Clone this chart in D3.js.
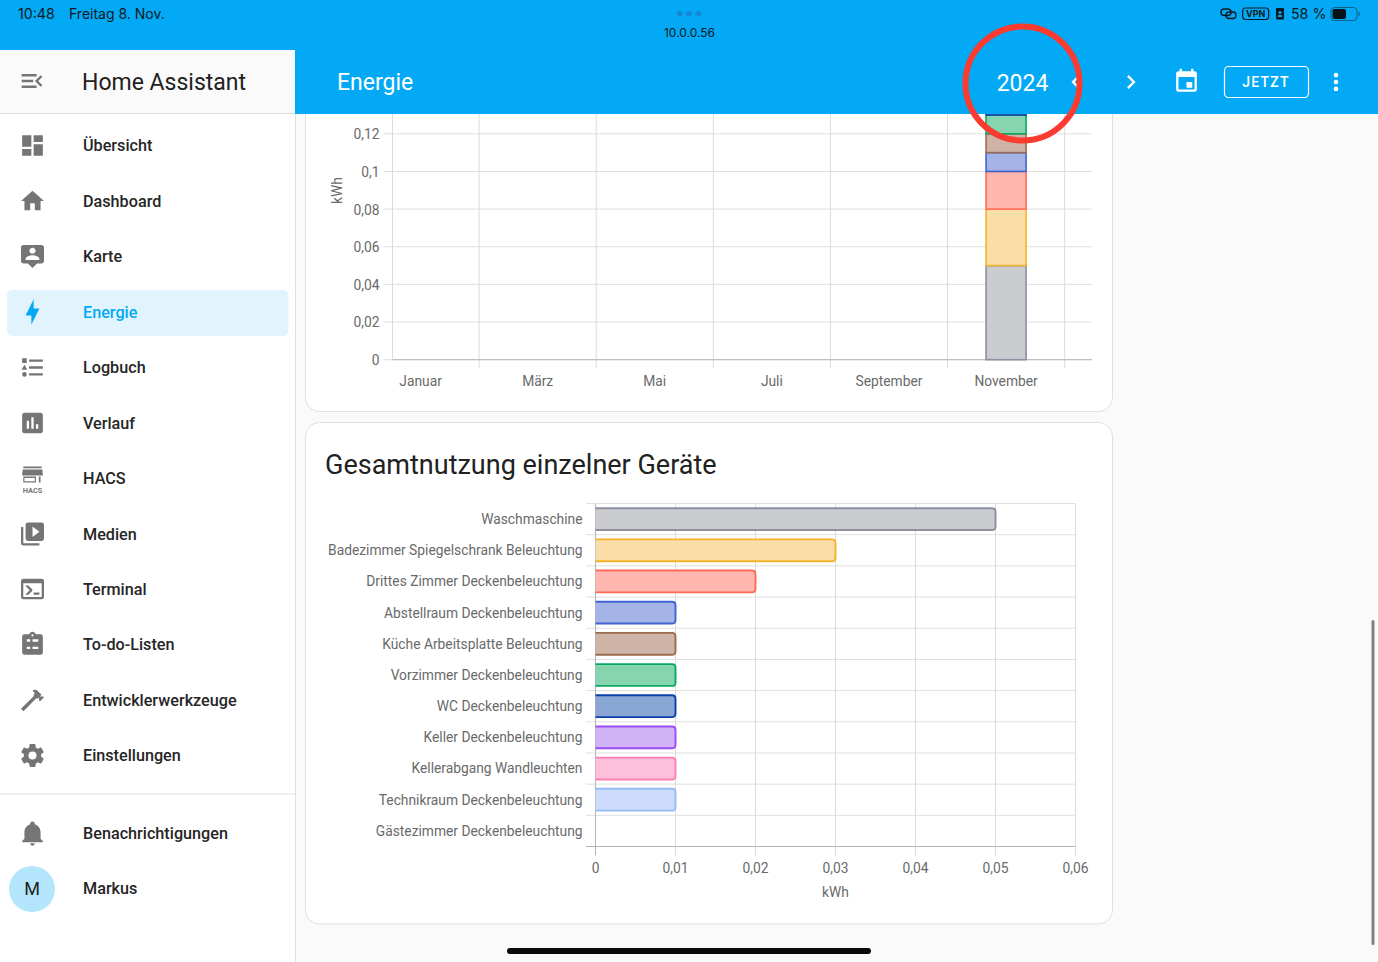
<!DOCTYPE html>
<html>
<head>
<meta charset="utf-8">
<title>Energie</title>
<script src="https://cdn.jsdelivr.net/npm/d3@7"></script>
<style>
  html, body { margin: 0; padding: 0; background: #fafafa; overflow: hidden; }
  svg { display: block; font-family: Roboto, sans-serif; }
  .axis text { font-size: 13.8px; fill: #6a6a6a; font-family: Roboto, sans-serif; }
  .axis .domain { display: none; }
  .nav { font-size: 16.2px; font-weight: 500; fill: #262626; }
  .status { font-family: Inter, sans-serif; fill: #0c1a24; }
</style>
</head>
<body>
<div id="chart"></div>
<script>
// data
const devices = [
  "Waschmaschine",
  "Badezimmer Spiegelschrank Beleuchtung",
  "Drittes Zimmer Deckenbeleuchtung",
  "Abstellraum Deckenbeleuchtung",
  "Küche Arbeitsplatte Beleuchtung",
  "Vorzimmer Deckenbeleuchtung",
  "WC Deckenbeleuchtung",
  "Keller Deckenbeleuchtung",
  "Kellerabgang Wandleuchten",
  "Technikraum Deckenbeleuchtung",
  "Gästezimmer Deckenbeleuchtung",
];
const deviceKwh = [0.05, 0.03, 0.02, 0.01, 0.01, 0.01, 0.01, 0.01, 0.01, 0.01, 0];
const months = ["Januar", "Februar", "März", "April", "Mai", "Juni", "Juli", "August", "September", "Oktober", "November", "Dezember"];
const monthLabels = ["Januar", "März", "Mai", "Juli", "September", "November"];
const monthGrid = ["Februar", "April", "Juni", "August", "Oktober", "Dezember"];
const activeMonth = "November";
const stackTicks = [0, 0.02, 0.04, 0.06, 0.08, 0.1, 0.12];
const totalTicks = [0, 0.01, 0.02, 0.03, 0.04, 0.05, 0.06];

const strokeColors = ["#8b8f9e", "#f6b22c", "#ff6b58", "#3f63d2", "#9c6a4c", "#07a862", "#0b40a8", "#9a4df5", "#ff7fb2", "#97bbf6", "#bbb"];
const fillColors = ["#c7c9cd", "#fadca2", "#ffb3aa", "#9eafe6", "#ccaea0", "#7fd2a9", "#83a0d2", "#cfadf7", "#fdbcd8", "#c9dafa", "#eee"];

const navLabels = ["Übersicht", "Dashboard", "Karte", "Energie", "Logbuch", "Verlauf", "HACS", "Medien", "Terminal", "To-do-Listen", "Entwicklerwerkzeuge", "Einstellungen"];
const navRows = [145.5, 201, 256.5, 312, 367.5, 423, 478, 534, 589, 644.5, 700, 755.5];

// material icons
const icons = {
  menu: "M21,15.61L19.59,17L14.58,12L19.59,7L21,8.39L17.44,12L21,15.61M3,6H16V8H3V6M3,13V11H13V13H3M3,18V16H16V18H3Z",
  "Übersicht": "M13,3V9H21V3M13,21H21V11H13M3,21H11V15H3M3,13H11V3H3V13Z",
  Dashboard: "M10,20V14H14V20H19V12H22L12,3L2,12H5V20H10Z",
  Karte: "M20 2H4C2.9 2 2 2.9 2 4V16C2 17.1 2.9 18 4 18H8L12 22L16 18H20C21.1 18 22 17.1 22 16V4C22 2.9 21.1 2 20 2M12 4.3C13.5 4.3 14.7 5.5 14.7 7S13.5 9.7 12 9.7 9.3 8.5 9.3 7 10.5 4.3 12 4.3M18 15H6V14.1C6 12.1 10 11 12 11S18 12.1 18 14.1V15Z",
  Energie: "M11 15H6L13 1V9H18L11 23V15Z",
  Logbuch: "M5,9.5L7.5,14H2.5L5,9.5M3,4H7V8H3V4M5,20A2,2 0 0,0 7,18A2,2 0 0,0 5,16A2,2 0 0,0 3,18A2,2 0 0,0 5,20M9,5V7H21V5H9M9,19H21V17H9V19M9,13H21V11H9V13Z",
  Verlauf: "M19 3H5C3.9 3 3 3.9 3 5V19C3 20.1 3.9 21 5 21H19C20.1 21 21 20.1 21 19V5C21 3.9 20.1 3 19 3M9 17H7V10H9V17M13 17H11V7H13V17M17 17H15V13H17V17Z",
  HACS: "M4 2H20V3.6H4ZM3.4 4.6H20.6L21 9.8H3ZM4 10.8H5V16H4ZM5 10.8H15V16H5V14.8H14V12H5ZM17.5 10.8H19V16H17.5Z",
  Medien: "M4,6H2V20A2,2 0 0,0 4,22H18V20H4V6M20,2H8A2,2 0 0,0 6,4V16A2,2 0 0,0 8,18H20A2,2 0 0,0 22,16V4A2,2 0 0,0 20,2M12,14.5V5.5L18,10L12,14.5Z",
  Terminal: "M20,19V7H4V19H20M20,3A2,2 0 0,1 22,5V19A2,2 0 0,1 20,21H4A2,2 0 0,1 2,19V5C2,3.89 2.9,3 4,3H20M13,17V15H18V17H13M9.58,13L5.57,9H8.4L11.7,12.3C12.09,12.69 12.09,13.33 11.7,13.72L8.42,17H5.59L9.58,13Z",
  "To-do-Listen": "M19 3H14.82C14.4 1.84 13.3 1 12 1S9.6 1.84 9.18 3H5A2 2 0 0 0 3 5V19A2 2 0 0 0 5 21H19A2 2 0 0 0 21 19V5A2 2 0 0 0 19 3ZM7 7.5V9.5H10V7.5ZM12 7.5V9.5H17V7.5ZM7 14V16H10V14ZM12 14V16H17V14ZM12 3A1 1 0 0 0 12 5A1 1 0 0 0 12 3Z",
  Entwicklerwerkzeuge: "M2 19.63L13.43 8.2L12.72 7.5L14.14 6.07L12 3.89C13.2 2.7 15.09 2.7 16.27 3.89L19.87 7.5L18.45 8.91H21.29L22 9.62L18.45 13.21L17.74 12.5V9.62L16.27 11.04L15.56 10.33L4.13 21.76L2 19.63Z",
  Einstellungen: "M12,15.5A3.5,3.5 0 0,1 8.5,12A3.5,3.5 0 0,1 12,8.5A3.5,3.5 0 0,1 15.5,12A3.5,3.5 0 0,1 12,15.5M19.43,12.97C19.47,12.65 19.5,12.33 19.5,12C19.5,11.67 19.47,11.34 19.43,11L21.54,9.37C21.73,9.22 21.78,8.95 21.66,8.73L19.66,5.27C19.54,5.05 19.27,4.96 19.05,5.05L16.56,6.05C16.04,5.66 15.5,5.32 14.87,5.07L14.5,2.42C14.46,2.18 14.25,2 14,2H10C9.75,2 9.54,2.18 9.5,2.42L9.13,5.07C8.5,5.32 7.96,5.66 7.44,6.05L4.95,5.05C4.73,4.96 4.46,5.05 4.34,5.27L2.34,8.73C2.21,8.95 2.27,9.22 2.46,9.37L4.57,11C4.53,11.34 4.5,11.67 4.5,12C4.5,12.33 4.53,12.65 4.57,12.97L2.46,14.63C2.27,14.78 2.21,15.05 2.34,15.27L4.34,18.73C4.46,18.95 4.73,19.03 4.95,18.95L7.44,17.94C7.96,18.34 8.5,18.68 9.13,18.93L9.5,21.58C9.54,21.82 9.75,22 10,22H14C14.25,22 14.46,21.82 14.5,21.58L14.87,18.93C15.5,18.67 16.04,18.34 16.56,17.94L19.05,18.95C19.27,19.03 19.54,18.95 19.66,18.73L21.66,15.27C21.78,15.05 21.73,14.78 21.54,14.63L19.43,12.97Z",
  bell: "M21,19V20H3V19L5,17V11C5,7.9 7.03,5.17 10,4.29C10,4.19 10,4.1 10,4A2,2 0 0,1 12,2A2,2 0 0,1 14,4C14,4.1 14,4.19 14,4.29C16.97,5.17 19,7.9 19,11V17L21,19M14,21A2,2 0 0,1 12,23A2,2 0 0,1 10,21",
  calendar: "M12,12.5H17V17.5H12M19,19H5V8H19M19,3H18V1H16V3H8V1H6V3H5C3.89,3 3,3.9 3,5V19A2,2 0 0,0 5,21H19A2,2 0 0,0 21,19V5A2,2 0 0,0 19,3Z",
  dots: "M12,16A2,2 0 0,1 14,18A2,2 0 0,1 12,20A2,2 0 0,1 10,18A2,2 0 0,1 12,16M12,10A2,2 0 0,1 14,12A2,2 0 0,1 12,14A2,2 0 0,1 10,12A2,2 0 0,1 12,10M12,4A2,2 0 0,1 14,6A2,2 0 0,1 12,8A2,2 0 0,1 10,6A2,2 0 0,1 12,4Z",
  next: "M8.59,16.58L13.17,12L8.59,7.41L10,6L16,12L10,18L8.59,16.58Z",
  prev: "M15.41,16.58L10.83,12L15.41,7.41L14,6L8,12L14,18L15.41,16.58Z",
};

const blue = "#03a9f4";
const numFormat = (d) => String(d).replace(".", ",");

const svg = d3.select("#chart").append("svg").attr("width", 1378).attr("height", 962);
svg.append("rect").attr("width", 1378).attr("height", 962).attr("fill", "#fafafa");

const drawIcon = (name, cx, cy, color, scale = 1.15) =>
  svg.append("path")
    .attr("d", icons[name])
    .attr("fill", color)
    .attr("fill-rule", "evenodd")
    .attr("transform", `translate(${cx - 12 * scale},${cy - 12 * scale}) scale(${scale})`);

const card = (y, h) =>
  svg.append("rect")
    .attr("x", 305.5).attr("y", y)
    .attr("width", 807).attr("height", h)
    .attr("rx", 14)
    .attr("fill", "#fff").attr("stroke", "#e0e0e0");

card(60, 351.5);
card(422.5, 501.5);

// monthly stacked chart
const xMonth = d3.scaleBand().domain(months).range([391.3, 1093.9]);
const yStack = d3.scaleLinear().domain([0, 0.12]).range([359.7, 133.8]);
const monthCenter = (m) => xMonth(m) + xMonth.bandwidth() / 2;

const stackRows = months.map((m) => {
  const row = { month: m };
  devices.forEach((d, i) => { row[d] = m === activeMonth ? deviceKwh[i] : 0; });
  return row;
});
const stacked = d3.stack().keys(devices)(stackRows);

svg.append("g")
  .attr("class", "axis")
  .attr("transform", "translate(392.5,0)")
  .call(d3.axisLeft(yStack).offset(0).tickValues(stackTicks).tickFormat(numFormat).tickSize(9).tickPadding(4))
  .call((g) => g.selectAll(".tick line").clone().attr("x1", 0).attr("x2", 699.5))
  .call((g) => g.selectAll(".tick line").attr("stroke", "#e0e0e0"))
  .call((g) => g.selectAll(".tick text").attr("transform", "translate(0,1)"));

svg.append("g")
  .selectAll("line")
  .data(monthGrid)
  .join("line")
  .attr("x1", monthCenter).attr("x2", monthCenter)
  .attr("y1", 100).attr("y2", 368.5)
  .attr("stroke", "#dcdcdc");

svg.append("line")
  .attr("x1", 392.5).attr("x2", 392.5)
  .attr("y1", 100).attr("y2", yStack(0))
  .attr("stroke", "#dcdcdc");
svg.append("line")
  .attr("x1", 392.5).attr("x2", 1092)
  .attr("y1", yStack(0)).attr("y2", yStack(0))
  .attr("stroke", "#b5b5b5");

svg.append("g")
  .attr("class", "axis")
  .attr("transform", "translate(0,359.5)")
  .call(d3.axisBottom(xMonth).offset(0).tickValues(monthLabels).tickSize(0).tickPadding(17));

svg.append("text")
  .attr("transform", "translate(342,190.5) rotate(-90)")
  .attr("text-anchor", "middle")
  .attr("font-size", 13.8).attr("fill", "#6a6a6a")
  .text("kWh");

const stackBarWidth = 40;
svg.append("g")
  .selectAll("g")
  .data(stacked)
  .join("g")
  .each(function (layer) {
    d3.select(this)
      .selectAll("rect")
      .data(layer.filter((d) => d[1] > d[0]))
      .join("rect")
      .attr("x", (d) => monthCenter(d.data.month) - stackBarWidth / 2)
      .attr("width", stackBarWidth)
      .attr("y", (d) => yStack(d[1]))
      .attr("height", (d) => yStack(d[0]) - yStack(d[1]))
      .attr("fill", fillColors[layer.index])
      .attr("fill-opacity", 0.94)
      .attr("stroke", strokeColors[layer.index])
      .attr("stroke-width", 1.6);
  });

// total per device
svg.append("text")
  .attr("x", 325).attr("y", 474)
  .attr("font-size", 27).attr("fill", "#212121")
  .text("Gesamtnutzung einzelner Geräte");

const xTotal = d3.scaleLinear().domain([0, 0.06]).range([595.5, 1075.5]);
const yDevice = d3.scaleBand().domain(devices).range([503.5, 846.5]);
const rowLines = devices.map((d) => yDevice(d));

svg.append("g")
  .selectAll("line")
  .data(rowLines)
  .join("line")
  .attr("x1", 586).attr("x2", 1075.5)
  .attr("y1", (d) => d).attr("y2", (d) => d)
  .attr("stroke", "#e0e0e0");

svg.append("g")
  .attr("class", "axis")
  .attr("transform", "translate(0,846.5)")
  .call(d3.axisBottom(xTotal).offset(0).tickValues(totalTicks).tickFormat(numFormat).tickSize(9).tickPadding(8))
  .call((g) => g.selectAll(".tick line").attr("stroke", "#dcdcdc").attr("y1", -343));

svg.append("line")
  .attr("x1", 586).attr("x2", 1075.5)
  .attr("y1", 846.5).attr("y2", 846.5)
  .attr("stroke", "#b5b5b5");
svg.append("line")
  .attr("x1", 595.5).attr("x2", 595.5)
  .attr("y1", 503.5).attr("y2", 855)
  .attr("stroke", "#b5b5b5");

svg.append("g")
  .attr("class", "axis")
  .attr("transform", "translate(595.5,0)")
  .call(d3.axisLeft(yDevice).offset(0).tickSize(0).tickPadding(13))
  .call((g) => g.selectAll(".tick text").attr("transform", "translate(0,0.5)"));

svg.append("text")
  .attr("x", 835.5).attr("y", 897)
  .attr("text-anchor", "middle")
  .attr("font-size", 13.8).attr("fill", "#6a6a6a")
  .text("kWh");

const barHeight = yDevice.bandwidth() * 0.7;
const bars = svg.append("g")
  .selectAll("g")
  .data(devices.map((d, i) => ({ name: d, value: deviceKwh[i], i })).filter((d) => d.value > 0))
  .join("g")
  .attr("transform", (d) => `translate(${xTotal(0)},${yDevice(d.name) + (yDevice.bandwidth() - barHeight) / 2})`);

const barShape = (d) => {
  const w = xTotal(d.value) - xTotal(0);
  const r = 3.5;
  return `M0,0H${w - r}Q${w},0 ${w},${r}V${barHeight - r}Q${w},${barHeight} ${w - r},${barHeight}H0`;
};
bars.append("path")
  .attr("d", barShape)
  .attr("fill", (d) => fillColors[d.i])
  .attr("fill-opacity", 0.94)
  .attr("stroke", (d) => strokeColors[d.i])
  .attr("stroke-width", 1.9);

// top bar, drawn over the scrolled chart
svg.append("rect").attr("width", 1378).attr("height", 114).attr("fill", blue);

svg.append("text").attr("class", "status").attr("x", 18).attr("y", 19).attr("font-size", 14.2).text("10:48");
svg.append("text").attr("class", "status").attr("x", 69).attr("y", 19).attr("font-size", 14).text("Freitag 8. Nov.");
svg.append("text").attr("class", "status").attr("x", 689.5).attr("y", 37).attr("text-anchor", "middle").attr("font-size", 12).text("10.0.0.56");
svg.append("g").selectAll("circle")
  .data([679.6, 689, 698.4])
  .join("circle")
  .attr("cx", (d) => d).attr("cy", 13.7).attr("r", 2.8)
  .attr("fill", "#1a86d2");

// status icons
const link = svg.append("g").attr("fill", "none").attr("stroke", "#0c1a24").attr("stroke-width", 1.4);
link.append("rect").attr("x", 1221).attr("y", 9).attr("width", 10).attr("height", 6.5).attr("rx", 3.2);
link.append("rect").attr("x", 1226).attr("y", 12).attr("width", 10).attr("height", 6.5).attr("rx", 3.2);
svg.append("rect").attr("x", 1242.7).attr("y", 8).attr("width", 26).attr("height", 11.5).attr("rx", 3)
  .attr("fill", "none").attr("stroke", "#0c1a24").attr("stroke-width", 1.2);
svg.append("text").attr("class", "status").attr("x", 1255.7).attr("y", 17).attr("text-anchor", "middle")
  .attr("font-size", 9).attr("font-weight", 700).text("VPN");
svg.append("rect").attr("x", 1276).attr("y", 8).attr("width", 8).attr("height", 11.5).attr("rx", 1).attr("fill", "#0c1a24");
svg.append("circle").attr("cx", 1280).attr("cy", 12.5).attr("r", 1.5).attr("fill", blue);
svg.append("rect").attr("x", 1278).attr("y", 15).attr("width", 4).attr("height", 2).attr("fill", blue);
svg.append("text").attr("class", "status").attr("x", 1291).attr("y", 19).attr("font-size", 14.2).text("58 %");
svg.append("rect").attr("x", 1331).attr("y", 7.5).attr("width", 26).attr("height", 13).attr("rx", 3.5)
  .attr("fill", "none").attr("stroke", "#0b5f8e").attr("stroke-width", 1);
svg.append("rect").attr("x", 1332.5).attr("y", 9).attr("width", 13.5).attr("height", 10).attr("rx", 2.2).attr("fill", "#06121a");
svg.append("rect").attr("x", 1358.5).attr("y", 12).attr("width", 1.2).attr("height", 4).attr("fill", "#0b5f8e");

svg.append("text").attr("x", 337).attr("y", 90).attr("font-size", 23).attr("fill", "#fff").text("Energie");
svg.append("text").attr("x", 1022.5).attr("y", 90.5).attr("text-anchor", "middle").attr("font-size", 23).attr("fill", "#fff").text("2024");
drawIcon("prev", 1076, 82, "#fff");
drawIcon("next", 1131, 82, "#fff");
drawIcon("calendar", 1186.5, 81.5, "#fff");
drawIcon("dots", 1336, 82, "#fff");
svg.append("rect").attr("x", 1224.5).attr("y", 66.5).attr("width", 84).attr("height", 31).attr("rx", 4)
  .attr("fill", "none").attr("stroke", "#fff").attr("stroke-width", 1.2);
svg.append("text").attr("x", 1266).attr("y", 87).attr("text-anchor", "middle")
  .attr("font-size", 14).attr("font-weight", 500).attr("letter-spacing", 1.2).attr("fill", "#fff").text("JETZT");

// sidebar
svg.append("rect").attr("x", 0).attr("y", 50).attr("width", 295).attr("height", 912).attr("fill", "#fff");
svg.append("line").attr("x1", 295.5).attr("x2", 295.5).attr("y1", 114).attr("y2", 962).attr("stroke", "#e0e0e0");
svg.append("rect").attr("x", 0).attr("y", 50).attr("width", 295).attr("height", 63.5).attr("fill", "#fafafa");
svg.append("line").attr("x1", 0).attr("x2", 295).attr("y1", 113.5).attr("y2", 113.5).attr("stroke", "#dcdcdc");
drawIcon("menu", 32, 81, "#757575");
svg.append("text").attr("x", 82).attr("y", 90).attr("font-size", 23).attr("fill", "#212121").text("Home Assistant");

svg.append("rect").attr("x", 7).attr("y", 290).attr("width", 281.5).attr("height", 46).attr("rx", 5).attr("fill", "#e1f4fd");

navLabels.forEach((label, i) => {
  const active = label === "Energie";
  drawIcon(label, 32.5, navRows[i], active ? blue : "#757575");
  svg.append("text")
    .attr("class", "nav")
    .attr("x", 83).attr("y", navRows[i] + 5.8)
    .attr("style", active ? `fill:${blue}` : null)
    .text(label);
});
// little HACS label under the store icon
svg.append("text").attr("x", 32.5).attr("y", 492.5).attr("text-anchor", "middle")
  .attr("font-size", 7.4).attr("font-weight", 700).attr("fill", "#757575").text("HACS");

svg.append("line").attr("x1", 0).attr("x2", 295).attr("y1", 794).attr("y2", 794).attr("stroke", "#e0e0e0");
drawIcon("bell", 32.5, 833, "#757575");
svg.append("text").attr("class", "nav").attr("x", 83).attr("y", 838.8).text("Benachrichtigungen");
svg.append("circle").attr("cx", 32).attr("cy", 889).attr("r", 23).attr("fill", "#b3e5fc");
svg.append("text").attr("x", 32).attr("y", 895).attr("text-anchor", "middle").attr("font-size", 18).attr("fill", "#212121").text("M");
svg.append("text").attr("class", "nav").attr("x", 83).attr("y", 893.8).text("Markus");

// scrollbar and home indicator
svg.append("rect").attr("x", 1371.5).attr("y", 620).attr("width", 3).attr("height", 325).attr("rx", 1.5).attr("fill", "#808080");
svg.append("rect").attr("x", 507).attr("y", 948).attr("width", 364).attr("height", 6).attr("rx", 3).attr("fill", "#0a0a0a");

// red annotation ring around the year
svg.append("circle").attr("cx", 1022.5).attr("cy", 83.5).attr("r", 57)
  .attr("fill", "none").attr("stroke", "#fb3a30").attr("stroke-width", 6);
</script>
</body>
</html>
